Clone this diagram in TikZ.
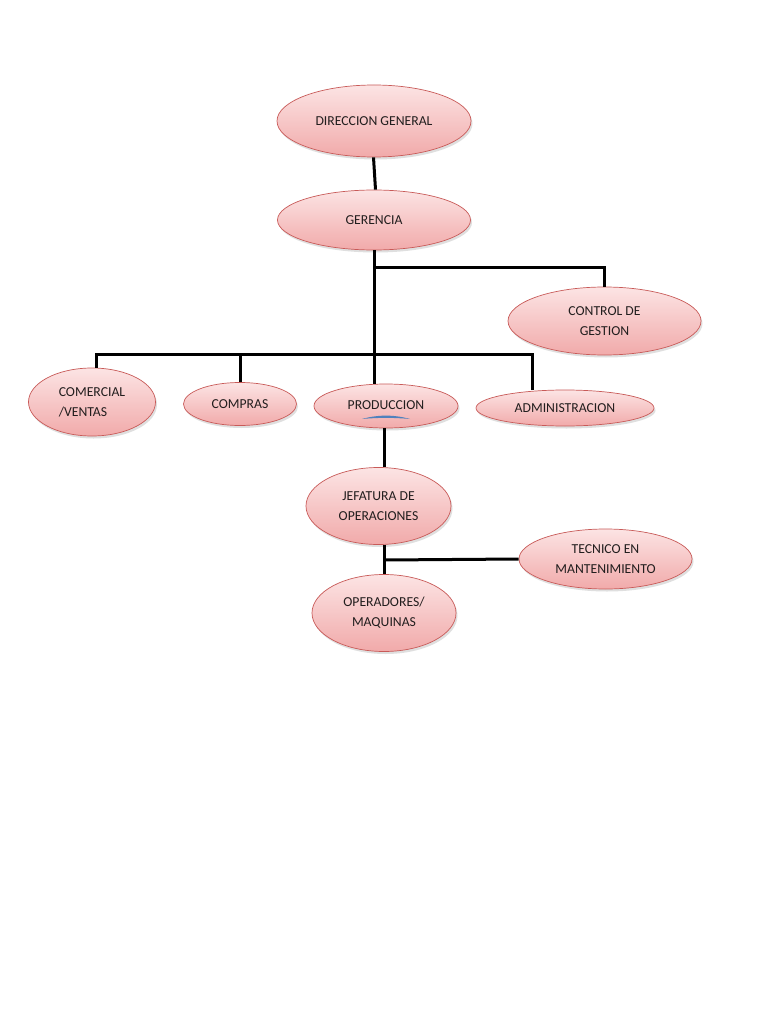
\documentclass[tikz,border=0pt]{standalone}
\usepackage{fontspec}
\setmainfont{Carlito}
\usepackage{tikz}
\usetikzlibrary{shapes.geometric,shadows}
\definecolor{pinktop}{RGB}{252,228,228}
\definecolor{pinkbot}{RGB}{241,170,170}
\definecolor{pinkline}{RGB}{200,90,88}
\definecolor{officeblue}{RGB}{79,129,189}
\definecolor{txt}{RGB}{34,30,30}

\begin{document}
\begin{tikzpicture}[x=1pt,y=-1pt,
  puesto/.style={ellipse,draw=pinkline,line width=0.7pt,top color=pinktop,bottom color=pinkbot,
    inner sep=0pt,text=txt,align=center,
    font=\fontsize{13.7}{20}\selectfont,
    drop shadow={opacity=0.25,shadow xshift=1.5pt,shadow yshift=-2.5pt}},
  linea/.style={line width=3pt,black}]

\useasboundingbox[fill=white] (0,0) rectangle (768,1024);

% cuadros
\node[puesto,minimum width=194,minimum height=72] (dg) at (374,121) {DIRECCION GENERAL};
\node[puesto,minimum width=193,minimum height=60] (ger) at (374,220) {GERENCIA};
\node[puesto,minimum width=193,minimum height=68] (ctrl) at (604.5,321) {CONTROL DE\\GESTION};
\node[puesto,minimum width=127,minimum height=68,align=left] (com) at (92,402) {COMERCIAL\\/VENTAS};
\node[puesto,minimum width=113,minimum height=43] (compras) at (240,404) {COMPRAS};
\node[puesto,minimum width=144,minimum height=44] (prod) at (386,406) {\raisebox{2pt}{PRODUCCION}};
\node[puesto,minimum width=178,minimum height=36] (admin) at (565,408) {ADMINISTRACION};
\node[puesto,minimum width=145,minimum height=77] (jef) at (378.5,506) {JEFATURA DE\\OPERACIONES};
\node[puesto,minimum width=173,minimum height=60] (tec) at (605.5,559) {TECNICO EN\\MANTENIMIENTO};
\node[puesto,minimum width=144,minimum height=77] (oper) at (384,613) {OPERADORES/\\MAQUINAS};

\fill[officeblue] (362,419) .. controls (378,414.5) and (394,414.5) .. (410,419)
  .. controls (394,417.5) and (378,417.5) .. cycle;

% lineas
\coordinate (rama) at (374,267);
\coordinate (barra) at (374,354);
\coordinate (izq) at (96,354);
\coordinate (der) at (532,354);
\coordinate (baja) at (384,560);

\draw[linea] ([xshift=-0.5]dg.south) -- ([xshift=1.5]ger.north);
\draw[linea] (ger.south) -- (374,384);
\draw[linea] (rama) -| (ctrl.north);
\draw[linea] (izq |- com.north) -- (izq) -- (der) -- (der |- admin.north);
\draw[linea] (compras.north) -- (compras.north |- barra);
\draw[linea] (prod.south -| baja) -- (jef.north -| baja);
\draw[linea] (jef.south -| baja) -- (oper.north -| baja);
\draw[linea] (baja) -- (tec.west);
\end{tikzpicture}
\end{document}
